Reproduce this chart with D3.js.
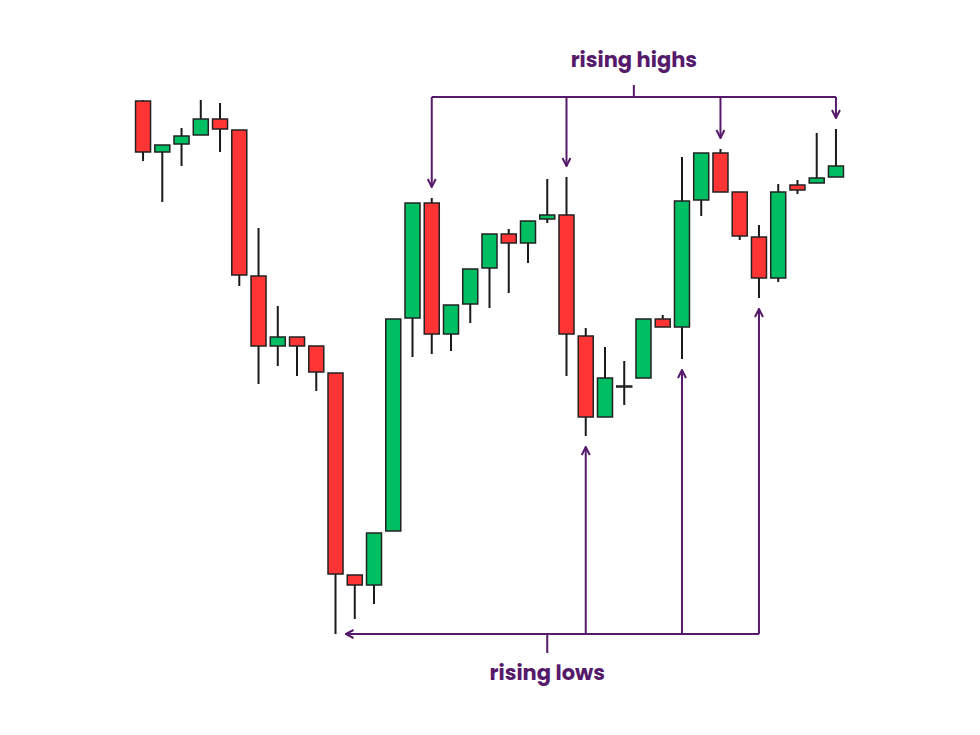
<!DOCTYPE html>
<html>
<head>
<meta charset="utf-8">
<script src="https://cdn.jsdelivr.net/npm/d3@7"></script>
<style>
  body { margin: 0; background: #fff; }
  text { font-family: Poppins, Inter, "Open Sans", sans-serif; font-weight: 700; }
</style>
</head>
<body>
<div id="chart"></div>
<script>
// candle values (price units)
var opens  = [599, 548, 556, 565, 581, 570, 424, 354, 363, 354, 327, 125, 115, 169, 382, 497, 366, 396, 432, 466, 457, 481, 485, 364, 283, 314, 322, 381, 373, 500, 547, 508, 463, 422, 515, 517, 523];
var closes = [548, 555, 564, 581, 571, 425, 354, 363, 354, 328, 126, 115, 167, 381, 497, 366, 395, 431, 466, 457, 479, 485, 366, 283, 322, 314, 381, 373, 499, 547, 508, 464, 422, 508, 510, 522, 534];
var highs  = [600, 555, 572, 600, 597, 570, 472, 394, 363, 354, 327, 125, 167, 381, 497, 502, 366, 396, 432, 471, 479, 521, 523, 372, 353, 339, 381, 385, 543, 547, 551, 508, 475, 516, 520, 567, 571];
var lows   = [539, 498, 534, 565, 548, 414, 316, 334, 324, 309, 66,  81,  96,  169, 343, 346, 349, 377, 392, 407, 437, 477, 324, 264, 283, 295, 322, 373, 341, 484, 547, 460, 402, 418, 506, 517, 523];
var highMarks = [15, 22, 30, 36];
var lowMarks = [23, 28, 32];
var highLabel = 'rising highs';
var lowLabel = 'rising lows';

var width = 980, height = 735;
var purple = '#561a6b';

var svg = d3.select('#chart').append('svg')
    .attr('width', width).attr('height', height);

var idx = d3.range(opens.length);
var x = d3.scaleBand().domain(idx).range([131.3, 847.7]).padding(0.22);
var y = d3.scaleLinear().domain([0, 700]).range([700, 0]);
var cx = function(i) { return x(i) + x.bandwidth() / 2; };

// wicks
svg.selectAll('line.wick').data(idx).enter().append('line')
    .attr('class', 'wick')
    .attr('x1', cx).attr('x2', cx)
    .attr('y1', function(i) { return y(highs[i]); })
    .attr('y2', function(i) { return y(lows[i]); })
    .attr('stroke', '#1a1a1a').attr('stroke-width', 2);

// bodies
svg.selectAll('rect.body').data(idx).enter().append('rect')
    .attr('class', 'body')
    .attr('x', function(i) { return x(i); })
    .attr('width', x.bandwidth())
    .attr('y', function(i) { return y(Math.max(opens[i], closes[i])); })
    .attr('height', function(i) { return Math.max(1, Math.abs(y(opens[i]) - y(closes[i]))); })
    .attr('fill', function(i) { return closes[i] >= opens[i] ? '#00bf63' : '#ff3434'; })
    .attr('stroke', '#222').attr('stroke-width', 1.5);

// arrowheads
var defs = svg.append('defs');
defs.append('marker').attr('id', 'arr')
    .attr('viewBox', '0 0 10 10').attr('refX', 9).attr('refY', 5)
    .attr('markerWidth', 5).attr('markerHeight', 5).attr('orient', 'auto-start-reverse')
    .append('path').attr('d', 'M1,1 L9,5 L1,9').attr('fill', 'none')
    .attr('stroke', purple).attr('stroke-width', 2);

// rising highs bracket
var hy = 97;
var hx0 = cx(highMarks[0]), hx1 = cx(highMarks[highMarks.length - 1]);
var hmid = (hx0 + hx1) / 2;
svg.append('line').attr('x1', hx0).attr('x2', hx1).attr('y1', hy).attr('y2', hy)
    .attr('stroke', purple).attr('stroke-width', 2);
svg.append('line').attr('x1', hmid).attr('x2', hmid).attr('y1', hy).attr('y2', hy - 12)
    .attr('stroke', purple).attr('stroke-width', 2);
highMarks.forEach(function(i) {
    svg.append('line').attr('x1', cx(i)).attr('x2', cx(i))
        .attr('y1', hy).attr('y2', y(highs[i]) - 11)
        .attr('stroke', purple).attr('stroke-width', 2).attr('marker-end', 'url(#arr)');
});
svg.append('text').attr('x', hmid).attr('y', 67).attr('text-anchor', 'middle')
    .attr('font-size', 21).attr('fill', purple).text(highLabel);

// rising lows bracket
var ly = y(d3.min(lows));
var lowIdx = lows.indexOf(d3.min(lows));
var lx0 = cx(lowIdx) + 10, lx1 = cx(lowMarks[lowMarks.length - 1]);
var lmid = (cx(lowIdx) + lx1) / 2;
svg.append('line').attr('x1', lx1).attr('x2', lx0).attr('y1', ly).attr('y2', ly)
    .attr('stroke', purple).attr('stroke-width', 2).attr('marker-end', 'url(#arr)');
svg.append('line').attr('x1', lmid).attr('x2', lmid).attr('y1', ly).attr('y2', ly + 19)
    .attr('stroke', purple).attr('stroke-width', 2);
lowMarks.forEach(function(i) {
    svg.append('line').attr('x1', cx(i)).attr('x2', cx(i))
        .attr('y1', ly).attr('y2', y(lows[i]) + 11)
        .attr('stroke', purple).attr('stroke-width', 2).attr('marker-end', 'url(#arr)');
});
svg.append('text').attr('x', lmid).attr('y', 680).attr('text-anchor', 'middle')
    .attr('font-size', 21).attr('fill', purple).text(lowLabel);
</script>
</body>
</html>
